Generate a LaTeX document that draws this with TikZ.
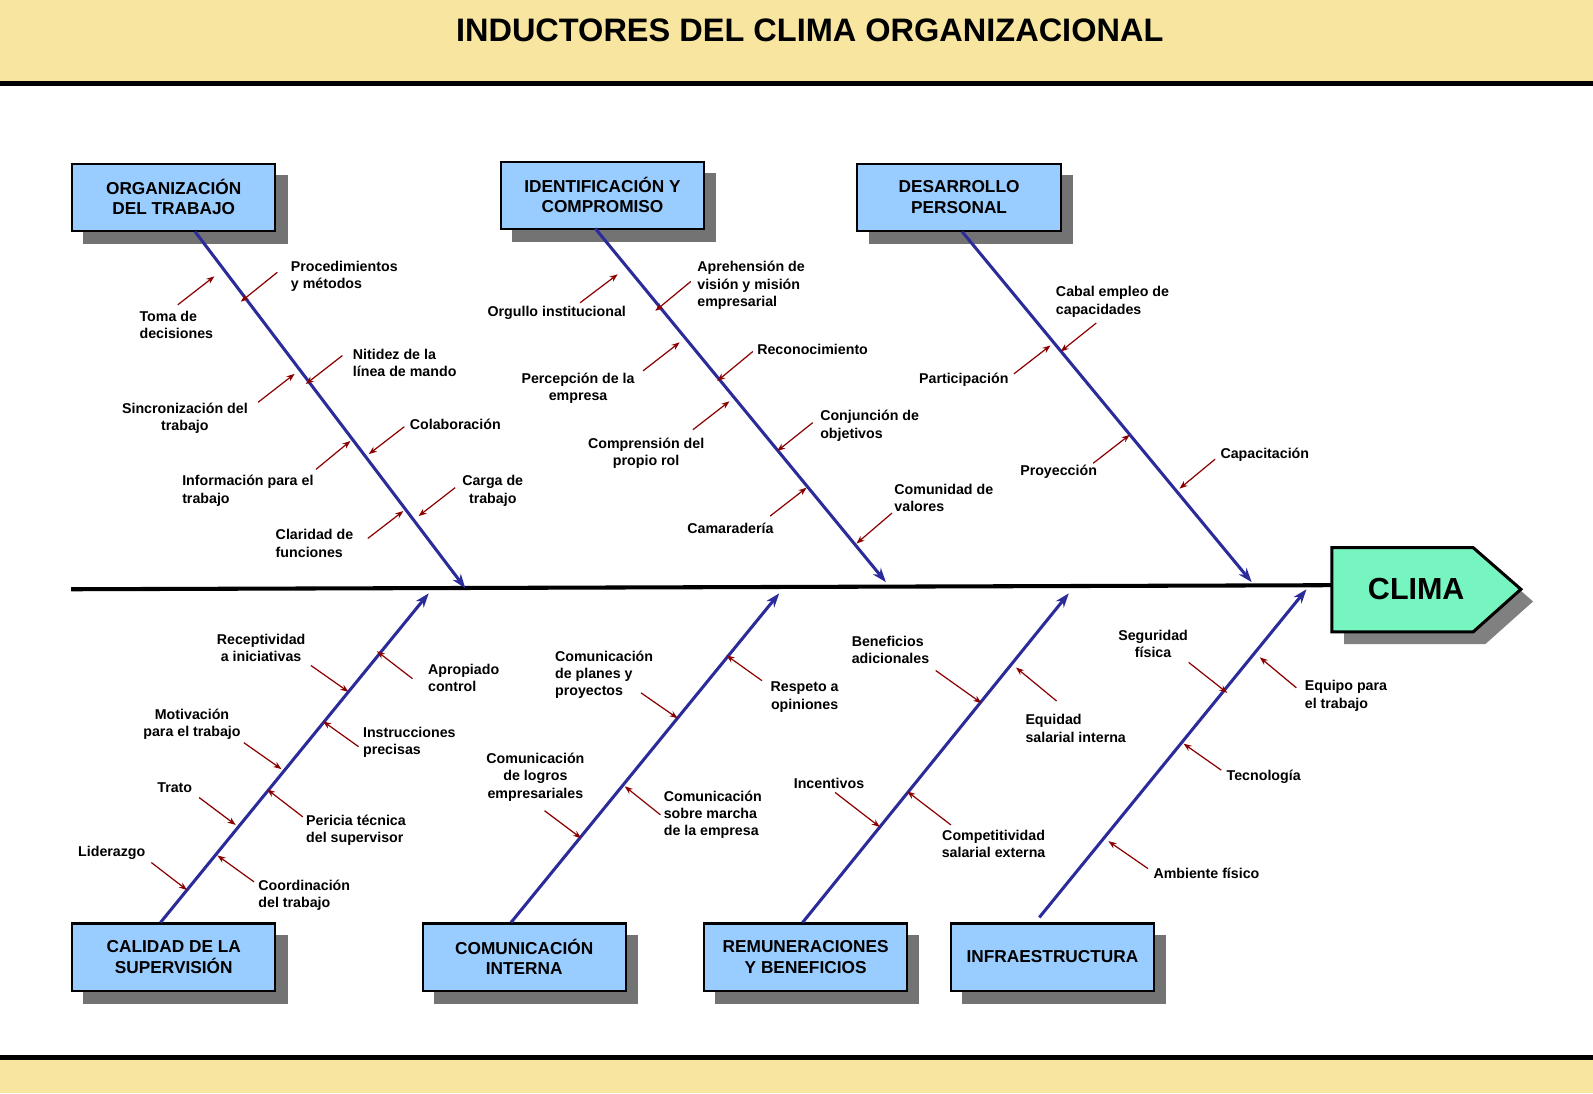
\documentclass[tikz,border=0pt]{standalone}
\usepackage{fontspec}
\setmainfont{Liberation Sans}
\usetikzlibrary{arrows.meta}
\definecolor{band}{HTML}{F8E6A0}
\definecolor{boxb}{HTML}{99CCFF}
\definecolor{bone}{HTML}{2B2B99}
\definecolor{sm}{HTML}{8B0000}
\definecolor{cg}{HTML}{77F5C0}
\begin{document}
\begin{tikzpicture}[x=0.5pt,y=-0.5pt,
 cat/.style={draw=black,line width=1pt,fill=boxb,minimum width=100pt,minimum height=33pt,align=center,font=\fontsize{8.5}{10}\selectfont\bfseries,anchor=north west},
 shd/.style={fill=black!55},
 bonea/.style={draw=bone,line width=1.5pt,-{Stealth[length=7pt,width=5pt]}},
 sa/.style={draw=sm,line width=0.6pt,-{Stealth[length=4pt,width=3pt]}},
 lb/.style={font=\fontsize{7}{8.5}\selectfont\bfseries,inner sep=1pt}]
\useasboundingbox (0,0) rectangle (1568,1076);
\fill[band] (0,0) rectangle (1568,80);
\draw[line width=2.5pt] (0,82) -- (1568,82);
\fill[band] (0,1043) rectangle (1568,1076);
\draw[line width=2.5pt] (0,1041) -- (1568,1041);
\node[font=\fontsize{16}{18}\selectfont\bfseries] (title) at (797,30) {INDUCTORES DEL CLIMA ORGANIZACIONAL};
% spine
\coordinate (s0) at (70,580); \coordinate (s1) at (1310,576);
\draw[line width=2pt] (s0) -- (s1);
% CLIMA
\fill[black!50] (1323,551) -- (1462,551) -- (1509,592) -- (1462,634) -- (1323,634) -- cycle;
\draw[line width=1.5pt,fill=cg] (1311,539) -- (1450,539) -- (1497,580) -- (1450,622) -- (1311,622) -- cycle;
\node[font=\fontsize{15}{17}\selectfont\bfseries] (clima) at (1394,580) {CLIMA};
% boxes
\foreach \x/\y in {70/160,492/158,843/160,70/908,415/908,692/908,935/908}
 \fill[shd] (\x+12,\y+12) rectangle ++(201,68);
\node[cat] (b1) at (70,160) {ORGANIZACIÓN\\DEL TRABAJO};
\node[cat] (b2) at (492,158) {IDENTIFICACIÓN Y\\COMPROMISO};
\node[cat] (b3) at (843,160) {DESARROLLO\\PERSONAL};
\node[cat] (b4) at (70,908) {CALIDAD DE LA\\SUPERVISIÓN};
\node[cat] (b5) at (415,908) {COMUNICACIÓN\\INTERNA};
\node[cat] (b6) at (692,908) {REMUNERACIONES\\Y BENEFICIOS};
\node[cat] (b7) at (935,908) {INFRAESTRUCTURA};
% bones
\coordinate (e1) at (458,579); \coordinate (e2) at (872,573); \coordinate (e3) at (1232,573);
\coordinate (e4) at (422,584); \coordinate (e5) at (767,584); \coordinate (e6) at (1052,584); \coordinate (e7) at (1286,580);
\draw[bonea] (192,228) -- (e1);
\draw[bonea] (586,225) -- (e2);
\draw[bonea] (947,228) -- (e3);
\draw[bonea] (158,908) -- (e4);
\draw[bonea] (503,908) -- (e5);
\draw[bonea] (790,908) -- (e6);
\draw[bonea] (1023,903) -- (e7);
% small arrows
\foreach \a/\b/\c/\d in {
175/300/211/272, 273/268/237/297, 254/396/290/368, 337/350/301/378,
311/462/345/434, 398/420/363/447, 362/530/397/503, 448/480/412/508,
571/298/608/270, 680/277/645/306, 633/365/669/337, 741/346/706/375,
682/423/718/395, 800/416/765/444, 758/508/794/480, 878/505/843/535,
1079/318/1044/346, 998/368/1034/340, 1076/456/1112/428, 1196/452/1161/481,
306/655/343/681, 406/668/371/641, 240/731/277/757, 353/735/318/710,
196/785/232/812, 298/804/263/777, 149/849/184/876, 250/868/214/842,
631/682/667/707, 750/670/715/645, 536/798/572/825, 650/802/615/774,
921/660/966/692, 1040/690/1000/657, 822/780/866/814, 936/812/893/779,
1170/652/1208/682, 1276/677/1240/647, 1202/758/1165/732, 1130/855/1091/828}
 \draw[sa] (\a,\b) -- (\c,\d);
% labels
\node[lb,anchor=west,align=left] (l1) at (135,320) {Toma de\\decisiones};
\node[lb,anchor=west,align=left] (l2) at (284,272) {Procedimientos\\y métodos};
\node[lb,align=center] (l3) at (182,412) {Sincronización del\\trabajo};
\node[lb,anchor=west,align=left] (l4) at (345,357) {Nitidez de la\\línea de mando};
\node[lb,anchor=west,align=left] (l5) at (177,483) {Información para el\\trabajo};
\node[lb,anchor=west,align=left] (l6) at (401,418) {Colaboración};
\node[lb,anchor=west,align=left] (l7) at (269,535) {Claridad de\\funciones};
\node[lb,align=center] (l8) at (485,483) {Carga de\\trabajo};
\node[lb] (l9) at (548,308) {Orgullo institucional};
\node[lb,anchor=west,align=left] (l10) at (684,281) {Aprehensión de\\visión y misión\\empresarial};
\node[lb,align=center] (l11) at (569,382) {Percepción de la\\empresa};
\node[lb,anchor=west] (l12) at (743,344) {Reconocimiento};
\node[lb,align=center] (l13) at (636,446) {Comprensión del\\propio rol};
\node[lb,anchor=west,align=left] (l14) at (805,419) {Conjunción de\\objetivos};
\node[lb] (l15) at (719,520) {Camaradería};
\node[lb,anchor=west,align=left] (l16) at (878,490) {Comunidad de\\valores};
\node[lb,anchor=west,align=left] (l17) at (1037,297) {Cabal empleo de\\capacidades};
\node[lb,anchor=east] (l18) at (995,374) {Participación};
\node[lb] (l19) at (1042,464) {Proyección};
\node[lb,anchor=west] (l20) at (1199,448) {Capacitación};
\node[lb,align=center] (l21) at (257,638) {Receptividad\\a iniciativas};
\node[lb,anchor=west,align=left] (l22) at (419,667) {Apropiado\\control};
\node[lb,align=center] (l23) at (189,713) {Motivación\\para el trabajo};
\node[lb,anchor=west,align=left] (l24) at (355,731) {Instrucciones\\precisas};
\node[lb] (l25) at (172,775) {Trato};
\node[lb,anchor=west,align=left] (l26) at (299,817) {Pericia técnica\\del supervisor};
\node[lb] (l27) at (110,839) {Liderazgo};
\node[lb,anchor=west,align=left] (l28) at (252,881) {Coordinación\\del trabajo};
\node[lb,anchor=west,align=left] (l29) at (544,664) {Comunicación\\de planes y\\proyectos};
\node[lb,align=center] (l30) at (792,686) {Respeto a\\opiniones};
\node[lb,align=center] (l31) at (527,765) {Comunicación\\de logros\\empresariales};
\node[lb,anchor=west,align=left] (l32) at (651,802) {Comunicación\\sobre marcha\\de la empresa};
\node[lb,anchor=west,align=left] (l33) at (836,640) {Beneficios\\adicionales};
\node[lb,anchor=west,align=left] (l34) at (1007,717) {Equidad\\salarial interna};
\node[lb] (l35) at (816,771) {Incentivos};
\node[lb,align=center] (l36) at (978,831) {Competitividad\\salarial externa};
\node[lb,align=center] (l37) at (1135,634) {Seguridad\\física};
\node[lb,anchor=west,align=left] (l38) at (1282,685) {Equipo para\\el trabajo};
\node[lb,anchor=west] (l39) at (1205,765) {Tecnología};
\node[lb,anchor=west] (l40) at (1133,860) {Ambiente físico};
\end{tikzpicture}
\end{document}
